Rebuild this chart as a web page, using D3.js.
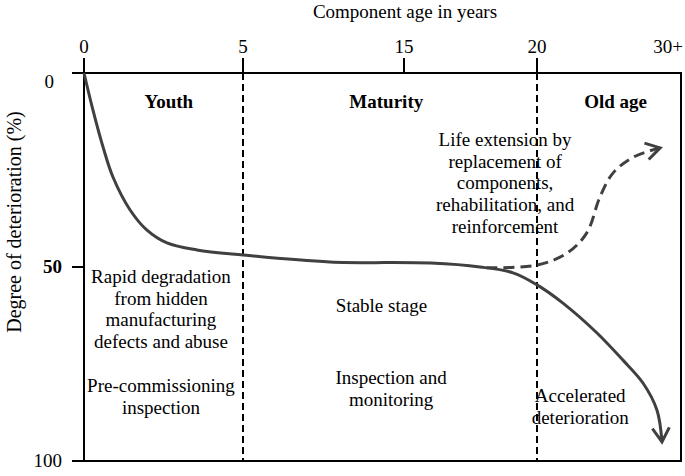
<html lang="en">
<head>
<meta charset="UTF-8">
<script src="https://d3js.org/d3.v7.min.js"></script>
<style>
  body { margin: 0; background: #fff; }
</style>
</head>
<body>
<div id="here"></div>
<script>
    // top axis: component age (non-uniform spacing in the original)
    const ageTicks = [0, 5, 15, 20, 30];
    const ageLabels = ["0", "5", "15", "20", "30+"];
    const phaseBounds = [5, 20];

    // left axis: degree of deterioration (%)
    const detTicks = [0, 50, 100];
    const detLabels = ["0", "50", "100"];

    // main deterioration curve
    const curveAge = [0, 0.28, 0.6, 0.91, 1.45, 1.98, 2.61, 3.55, 5, 10.4, 16.0, 17.86, 19.1, 20, 21.98, 24.58, 26.56, 28.09, 29.16, 29.54];
    const curveDet = [0, 9.5, 19.1, 26.8, 35.3, 40.5, 43.8, 45.6, 46.9, 48.7, 49.0, 50.0, 51.5, 54.6, 59.3, 67.0, 74.0, 79.9, 86.9, 95.1];

    // life extension branch (dashed)
    const extAge = [18.1, 20, 22.3, 23.8, 24.8, 25.8, 27.4, 29.4];
    const extDet = [50.2, 49.5, 46.4, 41.2, 32.0, 25.8, 21.6, 19.3];

    const W = 685, H = 476;
    const pLeft = 84, pTop = 73, pRight = 681, pBottom = 461;
    const FONT = "Liberation Serif, DejaVu Serif, serif";

    const x = d3.scaleLinear().domain(ageTicks).range([84, 243, 404, 537, 668]);
    const y = d3.scaleLinear().domain([0, 100]).range([pTop, pBottom]);

    const svg = d3.select("#here").append("svg")
        .attr("width", W).attr("height", H)
        .attr("font-family", FONT)
        .style("font-family", FONT);

    const defs = svg.append("defs");
    defs.append("marker")
        .attr("id", "head")
        .attr("markerUnits", "userSpaceOnUse")
        .attr("viewBox", "-18 -12 22 24")
        .attr("refX", 0).attr("refY", 0)
        .attr("markerWidth", 22).attr("markerHeight", 24)
        .attr("orient", "auto")
        .append("path")
        .attr("d", "M-14,-8.5L0,0L-14,8.5")
        .attr("fill", "none")
        .attr("stroke", "#404040")
        .attr("stroke-width", 3)
        .attr("stroke-dasharray", "none");

    // phase separators
    svg.selectAll("line.phase")
        .data(phaseBounds)
        .enter().append("line")
        .attr("class", "phase")
        .attr("x1", d => x(d)).attr("x2", d => x(d))
        .attr("y1", pTop).attr("y2", pBottom)
        .attr("stroke", "#000")
        .attr("stroke-width", 2)
        .attr("stroke-dasharray", "7,4");

    // frame
    svg.append("rect")
        .attr("x", pLeft).attr("y", pTop)
        .attr("width", pRight - pLeft).attr("height", pBottom - pTop)
        .attr("fill", "none").attr("stroke", "#000").attr("stroke-width", 2);

    // top axis ticks (none drawn at 30+)
    svg.selectAll("line.xt")
        .data(ageTicks.slice(0, 4))
        .enter().append("line")
        .attr("x1", d => x(d)).attr("x2", d => x(d))
        .attr("y1", pTop - 15).attr("y2", pTop)
        .attr("stroke", "#000").attr("stroke-width", 2);

    svg.selectAll("text.xl")
        .data(ageTicks)
        .enter().append("text")
        .attr("x", d => x(d))
        .attr("y", 53)
        .attr("text-anchor", "middle")
        .style("font-size", "19px")
        .text((d, i) => ageLabels[i]);

    svg.append("text")
        .attr("x", 405).attr("y", 18)
        .attr("text-anchor", "middle")
        .style("font-size", "19px")
        .text("Component age in years");

    // left axis ticks
    svg.selectAll("line.yt")
        .data(detTicks)
        .enter().append("line")
        .attr("x1", pLeft - 12).attr("x2", pLeft)
        .attr("y1", d => y(d)).attr("y2", d => y(d))
        .attr("stroke", "#000").attr("stroke-width", 2);

    svg.selectAll("text.yl")
        .data(detTicks)
        .enter().append("text")
        .attr("x", (d, i) => i === 0 ? 54 : 62)
        .attr("y", (d, i) => i === 0 ? y(d) + 15 : y(d) + 6)
        .attr("text-anchor", "end")
        .style("font-size", "19px")
        .style("font-weight", d => d === 50 ? "bold" : "normal")
        .text((d, i) => detLabels[i]);

    svg.append("text")
        .attr("transform", "translate(21,222) rotate(-90)")
        .attr("text-anchor", "middle")
        .style("font-size", "20px")
        .text("Degree of deterioration (%)");

    // curves
    const line = d3.line()
        .x(d => x(d[0]))
        .y(d => y(d[1]))
        .curve(d3.curveCatmullRom.alpha(0.5));

    svg.append("path")
        .datum(extAge.map((a, i) => [a, extDet[i]]))
        .attr("d", line)
        .attr("fill", "none")
        .attr("stroke", "#404040")
        .attr("stroke-width", 3)
        .attr("stroke-dasharray", "11,6")
        .attr("marker-end", "url(#head)");

    svg.append("path")
        .datum(curveAge.map((a, i) => [a, curveDet[i]]))
        .attr("d", line)
        .attr("fill", "none")
        .attr("stroke", "#404040")
        .attr("stroke-width", 3)
        .attr("marker-end", "url(#head)");

    // phase titles and notes, placed in age / deterioration units
    const notes = [
        { a: 2.67, d: 9.0, bold: true, lines: ["Youth"] },
        { a: 13.9, d: 9.0, bold: true, lines: ["Maturity"] },
        { a: 26.0, d: 9.0, bold: true, lines: ["Old age"] },
        { a: 2.42, d: 54.1, lines: ["Rapid degradation", "from hidden", "manufacturing", "defects and abuse"] },
        { a: 2.42, d: 82.2, lines: ["Pre-commissioning", "inspection"] },
        { a: 13.6, d: 61.6, lines: ["Stable stage"] },
        { a: 14.2, d: 80.2, lines: ["Inspection and", "monitoring"] },
        { a: 23.3, d: 84.8, lines: ["Accelerated", "deterioration"] },
        { a: 18.8, d: 18.8, lines: ["Life extension by", "replacement of", "components,", "rehabilitation, and", "reinforcement"] }
    ];

    const g = svg.selectAll("text.note")
        .data(notes)
        .enter().append("text")
        .attr("class", "note")
        .attr("text-anchor", "middle")
        .style("font-size", "19px")
        .style("font-weight", d => d.bold ? "bold" : "normal");

    g.selectAll("tspan")
        .data(d => d.lines.map(t => ({ t: t, a: d.a, d: d.d })))
        .enter().append("tspan")
        .attr("x", d => x(d.a))
        .attr("y", (d, i) => y(d.d) + i * 21.7)
        .text(d => d.t);
</script>
</body>
</html>
